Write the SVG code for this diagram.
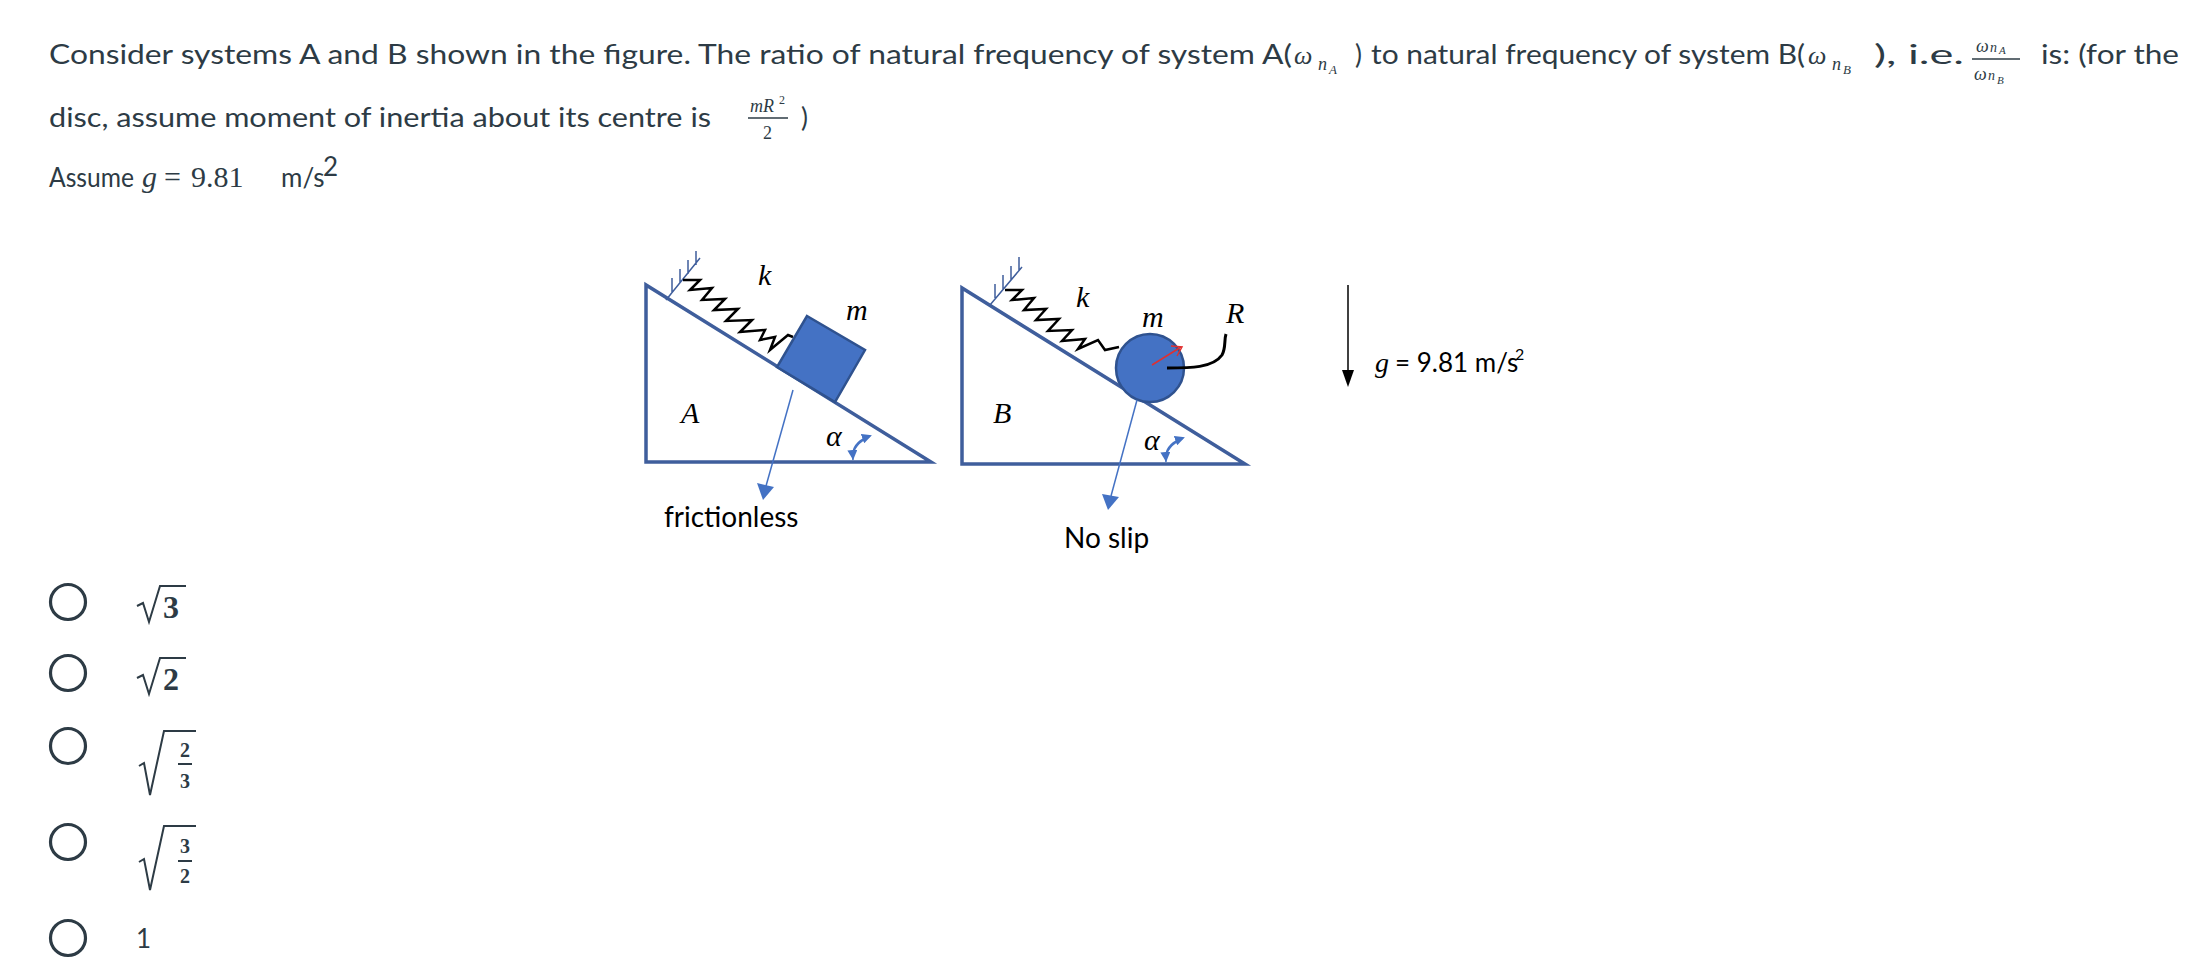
<svg xmlns="http://www.w3.org/2000/svg" width="2206" height="978" viewBox="0 0 2206 978">
<defs>
<style>
.t{font-family:Lato,"Open Sans",sans-serif;font-size:26px;fill:#2D3B45}
.m{font-family:"Liberation Serif","DejaVu Serif",serif;font-style:italic;fill:#2D3B45}
.r{font-family:"Liberation Serif","DejaVu Serif",serif;fill:#2D3B45}
.f{font-family:"Liberation Serif",serif;font-style:italic;fill:#000;font-size:30px}
.c{font-family:Lato,"Open Sans",sans-serif;fill:#000;font-size:28px}
.tri{fill:#fff;stroke:#3F5E9C;stroke-width:3.5}
.blk{fill:#4472C4;stroke:#2F528F;stroke-width:2.5}
.spr{fill:none;stroke:#000;stroke-width:2.5}
.bl{fill:none;stroke:#4472C4;stroke-width:1.5}
.opt{fill:none;stroke:#2D3B45;stroke-width:3.2}
.kx{font-family:"Liberation Serif","DejaVu Serif",serif;font-weight:bold;fill:#2D3B45}
</style>
<marker id="ba" markerWidth="10" markerHeight="10" refX="8" refY="5" orient="auto" markerUnits="userSpaceOnUse"><path d="M0,0L10,5L0,10z" fill="#4472C4"/></marker>
</defs>
<g id="question">
<text class="t" x="49" y="64" textLength="1243" lengthAdjust="spacingAndGlyphs">Consider systems A and B shown in the figure. The ratio of natural frequency of system A(</text>
<text class="m" x="1294" y="64" font-size="26">ω</text>
<text class="m" x="1318" y="70" font-size="18">n</text><text class="m" x="1329" y="74" font-size="13">A</text>
<text class="t" x="1355" y="64">)</text>
<text class="t" x="1371" y="64" textLength="434" lengthAdjust="spacingAndGlyphs">to natural frequency of system B(</text>
<text class="m" x="1808" y="64" font-size="26">ω</text>
<text class="m" x="1832" y="70" font-size="18">n</text><text class="m" x="1843" y="74" font-size="13">B</text>
<text class="t" x="1874" y="64" textLength="90" lengthAdjust="spacingAndGlyphs">), i.e.</text>
<text class="m" x="1976" y="52" font-size="18">ω</text><text class="m" x="1990" y="52" font-size="14">n</text><text class="m" x="1999" y="54" font-size="11">A</text>
<line x1="1972" y1="59" x2="2020" y2="59" stroke="#2D3B45" stroke-width="1.3"/>
<text class="m" x="1974" y="80" font-size="18">ω</text><text class="m" x="1988" y="80" font-size="14">n</text><text class="m" x="1997" y="84" font-size="11">B</text>
<text class="t" x="2041" y="64" textLength="138" lengthAdjust="spacingAndGlyphs">is: (for the</text>
<text class="t" x="49" y="127" textLength="662" lengthAdjust="spacingAndGlyphs">disc, assume moment of inertia about its centre is</text>
<text class="m" x="750" y="112" font-size="18">mR</text><text class="r" x="779" y="104" font-size="12">2</text>
<line x1="748" y1="118" x2="788" y2="118" stroke="#2D3B45" stroke-width="1.3"/>
<text class="r" x="763" y="139" font-size="18">2</text>
<text class="t" x="801" y="127">)</text>
<text class="t" x="49" y="187" textLength="85" lengthAdjust="spacingAndGlyphs">Assume</text>
<text class="m" x="142" y="187" font-size="30">g</text>
<text class="r" x="164" y="187" font-size="30">=</text>
<text class="r" x="191" y="187" font-size="30">9.81</text>
<text class="t" x="281" y="187">m/s</text>
<text class="t" x="323" y="176" font-size="20">2</text>
</g>
<g id="systemA">
<polygon class="tri" points="646,285 646,462 931,462"/>
<path d="M666,300L700,258M672,292l0,-14M680,283l0,-14M688,274l0,-14M696,265l0,-14" stroke="#3F5E9C" stroke-width="1.5" fill="none"/>
<path class="spr" d="M683,280L700,280L690,290L712,288L702,300L725,299L714,310L738,309L726,321L752,320L740,332L765,330L760,340L775,337L770,350L788,335L793,337"/>
<polygon class="blk" points="807,316 865,350 835,402 777,367"/>
<text class="f" x="758" y="285">k</text>
<text class="f" x="846" y="320">m</text>
<text class="f" x="681" y="423">A</text>
<text class="f" x="826" y="446">α</text>
<path class="bl" d="M853,460Q850,443 870,436" marker-end="url(#ba)"/>
<path class="bl" d="M870,436Q852,445 853,458" marker-end="url(#ba)"/>
<line x1="793" y1="390" x2="766" y2="486" stroke="#4472C4" stroke-width="1.5"/>
<polygon points="757,483 774,487 763,500" fill="#4472C4"/>
<text class="c" x="664" y="527">frictionless</text>
</g>
<g id="systemB">
<polygon class="tri" points="962,288 962,464 1245,464"/>
<path d="M990,305L1022,267M995,298l0,-14M1003,289l0,-14M1011,280l0,-14M1019,271l0,-14" stroke="#3F5E9C" stroke-width="1.5" fill="none"/>
<path class="spr" d="M1005,290L1022,290L1012,300L1034,298L1024,310L1046,309L1036,320L1059,319L1048,331L1072,330L1062,341L1085,339L1078,349L1098,340L1105,350L1119,347"/>
<circle class="blk" cx="1150" cy="368" r="34"/>
<line x1="1152" y1="365" x2="1181" y2="347" stroke="#E03030" stroke-width="1.5"/>
<path d="M1171,346L1182,347L1177,356" stroke="#E03030" stroke-width="1.5" fill="none"/>
<path d="M1167,368C1190,368 1213,368 1222,355C1226,348 1224,340 1226,334" stroke="#000" stroke-width="3" fill="none"/>
<text class="f" x="1076" y="307">k</text>
<text class="f" x="1142" y="327">m</text>
<text class="f" x="1226" y="323">R</text>
<text class="f" x="993" y="423">B</text>
<text class="f" x="1144" y="450">α</text>
<path class="bl" d="M1166,462Q1163,445 1183,438" marker-end="url(#ba)"/>
<path class="bl" d="M1183,438Q1165,447 1166,460" marker-end="url(#ba)"/>
<line x1="1137" y1="400" x2="1111" y2="496" stroke="#4472C4" stroke-width="1.5"/>
<polygon points="1102,494 1119,497 1108,510" fill="#4472C4"/>
<text class="c" x="1064" y="548">No slip</text>
</g>
<g id="gravity">
<line x1="1348" y1="285" x2="1348" y2="372" stroke="#000" stroke-width="1.5"/>
<polygon points="1342,370 1354,370 1348,387" fill="#000"/>
<text x="1375" y="372" font-family="Liberation Serif,serif" font-style="italic" font-size="28">g</text>
<text x="1395" y="372" font-family="Lato,sans-serif" font-size="26">= 9.81 m/s</text>
<text x="1515" y="360" font-family="Lato,sans-serif" font-size="16">2</text>
</g>
<g id="options">
<circle class="opt" cx="68" cy="602" r="17.5"/>
<circle class="opt" cx="68" cy="673" r="17.5"/>
<circle class="opt" cx="68" cy="746" r="17.5"/>
<circle class="opt" cx="68" cy="842" r="17.5"/>
<circle class="opt" cx="68" cy="938" r="17.5"/>
<path d="M137,606L143,603L149,622L160,586L186,586" fill="none" stroke="#2D3B45" stroke-width="2"/>
<text class="kx" x="163" y="618" font-size="32">3</text>
<path d="M137,678L143,675L149,694L160,658L186,658" fill="none" stroke="#2D3B45" stroke-width="2"/>
<text class="kx" x="163" y="690" font-size="32">2</text>
<path d="M139,766L144,763L150,795L164,731L196,731" fill="none" stroke="#2D3B45" stroke-width="2"/>
<text class="kx" x="185" y="757" font-size="20" text-anchor="middle">2</text>
<line x1="178" y1="764" x2="192" y2="764" stroke="#2D3B45" stroke-width="2"/>
<text class="kx" x="185" y="788" font-size="20" text-anchor="middle">3</text>
<path d="M139,862L144,859L150,890L164,826L196,826" fill="none" stroke="#2D3B45" stroke-width="2"/>
<text class="kx" x="185" y="853" font-size="20" text-anchor="middle">3</text>
<line x1="178" y1="861" x2="192" y2="861" stroke="#2D3B45" stroke-width="2"/>
<text class="kx" x="185" y="883" font-size="20" text-anchor="middle">2</text>
<text class="t" x="136" y="948">1</text>
</g>
</svg>
